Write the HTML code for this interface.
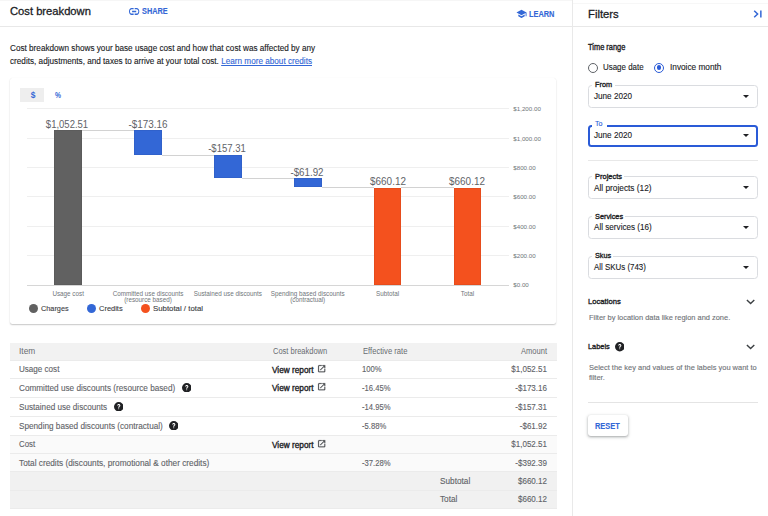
<!DOCTYPE html>
<html><head><meta charset="utf-8"><title>Cost breakdown</title>
<style>
html,body{margin:0;padding:0;background:#fff;}
body{width:768px;height:516px;position:relative;overflow:hidden;font-family:"Liberation Sans", Arial, sans-serif;}
.t{position:absolute;line-height:1;white-space:nowrap;-webkit-text-stroke:0.12px currentColor;}
.r{position:absolute;}
</style></head><body>
<div class="r" style="left:0px;top:0px;width:572px;height:1px;background:#f6f6f6;"></div>
<div class="t" style="top:5.48px;font-size:11.6px;color:#202124;left:9.80px;-webkit-text-stroke:0.3px currentColor;transform-origin:0 0;transform:scaleX(0.9656);"><span>Cost breakdown</span></div>
<svg class="r" style="left:129.3px;top:7.9px" width="10.3" height="6.9" viewBox="2 7 20 10" preserveAspectRatio="none">
<path d="M3.9 12c0-1.71 1.39-3.1 3.1-3.1h4V7H7c-2.76 0-5 2.24-5 5s2.24 5 5 5h4v-1.9H7c-1.71 0-3.1-1.39-3.1-3.1zM8 13h8v-2H8v2zm9-6h-4v1.9h4c1.71 0 3.1 1.39 3.1 3.1s-1.39 3.1-3.1 3.1h-4V17h4c2.76 0 5-2.24 5-5s-2.24-5-5-5z" fill="#3367d6"/></svg>
<div class="t" style="top:7.86px;font-size:8.2px;font-weight:700;color:#3367d6;left:142.30px;transform-origin:0 0;transform:scaleX(0.8929);"><span>SHARE</span></div>
<svg class="r" style="left:516px;top:9px" width="11" height="9" viewBox="0 2 24 18">
<path d="M5 13.18v4L12 21l7-3.82v-4L12 17l-7-3.82zM12 3L1 9l11 6 9-4.91V17h2V9L12 3z" fill="#3367d6"/></svg>
<div class="t" style="top:11.36px;font-size:8.2px;font-weight:700;color:#3367d6;left:528.60px;transform-origin:0 0;transform:scaleX(0.9006);"><span>LEARN</span></div>
<div class="r" style="left:0px;top:26px;width:572px;height:1px;background:#e8e8e8;"></div>
<div class="t" style="top:44.47px;font-size:8.3px;color:#202124;left:10.00px;transform-origin:0 0;transform:scaleX(0.9849);"><span>Cost breakdown shows your base usage cost and how that cost was affected by any</span></div>
<div class="t" style="top:56.97px;font-size:8.3px;color:#202124;left:10.00px;transform-origin:0 0;transform:scaleX(0.9847);"><span>credits, adjustments, and taxes to arrive at your total cost. <span style="color:#3367d6;text-decoration:underline">Learn more about credits</span></span></div>
<div class="r" style="left:10px;top:78px;width:546.3px;height:246.3px;background:#fff;border-radius:2.5px;box-shadow:0 1px 1.5px rgba(0,0,0,.22),0 0 1px rgba(0,0,0,.07);"></div>
<div class="r" style="left:20.3px;top:88px;width:24px;height:14px;background:#eeeeee;"></div>
<div class="t" style="top:90.81px;font-size:9.2px;font-weight:700;color:#3367d6;left:-167.45px;width:400px;text-align:center;-webkit-text-stroke:0;transform-origin:50% 0;transform:scaleX(0.9171);"><span>$</span></div>
<div class="t" style="top:90.85px;font-size:8.8px;font-weight:700;color:#3367d6;left:-142.00px;width:400px;text-align:center;-webkit-text-stroke:0;transform-origin:50% 0;transform:scaleX(0.7665);"><span>%</span></div>
<div class="r" style="left:27px;top:108.2px;width:481.6px;height:1px;background:#efefef;"></div>
<div class="t" style="top:106.15px;font-size:6.2px;color:#70757a;left:513.30px;-webkit-text-stroke:0;">$1,200.00</div>
<div class="r" style="left:27px;top:137.58px;width:481.6px;height:1px;background:#efefef;"></div>
<div class="t" style="top:135.53px;font-size:6.2px;color:#70757a;left:513.30px;-webkit-text-stroke:0;">$1,000.00</div>
<div class="r" style="left:27px;top:166.97px;width:481.6px;height:1px;background:#efefef;"></div>
<div class="t" style="top:164.92px;font-size:6.2px;color:#70757a;left:513.30px;-webkit-text-stroke:0;">$800.00</div>
<div class="r" style="left:27px;top:196.35px;width:481.6px;height:1px;background:#efefef;"></div>
<div class="t" style="top:194.30px;font-size:6.2px;color:#70757a;left:513.30px;-webkit-text-stroke:0;">$600.00</div>
<div class="r" style="left:27px;top:225.73px;width:481.6px;height:1px;background:#efefef;"></div>
<div class="t" style="top:223.68px;font-size:6.2px;color:#70757a;left:513.30px;-webkit-text-stroke:0;">$400.00</div>
<div class="r" style="left:27px;top:255.12px;width:481.6px;height:1px;background:#efefef;"></div>
<div class="t" style="top:253.07px;font-size:6.2px;color:#70757a;left:513.30px;-webkit-text-stroke:0;">$200.00</div>
<div class="r" style="left:27px;top:284.5px;width:481.6px;height:1px;background:#d6d6d6;"></div>
<div class="t" style="top:282.45px;font-size:6.2px;color:#70757a;left:513.30px;-webkit-text-stroke:0;">$0.00</div>
<div class="r" style="left:54.35px;top:130.2px;width:27.6px;height:154.8px;background:#616161;box-shadow:inset 0 0 0 0.8px rgba(0,0,0,.07);"></div>
<div class="t" style="top:119.58px;font-size:10px;color:#5f6368;left:-132.65px;width:400px;text-align:center;-webkit-text-stroke:0;transform-origin:50% 0;transform:scaleX(0.9506);"><span>$1,052.51</span></div>
<div class="r" style="left:134.21px;top:130.2px;width:27.6px;height:24.75px;background:#3367d6;box-shadow:inset 0 0 0 0.8px rgba(0,0,0,.07);"></div>
<div class="t" style="top:119.58px;font-size:10px;color:#5f6368;left:-52.39px;width:400px;text-align:center;-webkit-text-stroke:0;transform-origin:50% 0;transform:scaleX(0.9903);"><span>-$173.16</span></div>
<div class="r" style="left:214.07px;top:154.95px;width:27.6px;height:23.2px;background:#3367d6;box-shadow:inset 0 0 0 0.8px rgba(0,0,0,.07);"></div>
<div class="t" style="top:144.33px;font-size:10px;color:#5f6368;left:26.80px;width:400px;text-align:center;-webkit-text-stroke:0;transform-origin:50% 0;transform:scaleX(0.9523);"><span>-$157.31</span></div>
<div class="r" style="left:293.93px;top:178.15px;width:27.6px;height:9.1px;background:#3367d6;box-shadow:inset 0 0 0 0.8px rgba(0,0,0,.07);"></div>
<div class="t" style="top:167.53px;font-size:10px;color:#5f6368;left:107.45px;width:400px;text-align:center;-webkit-text-stroke:0;transform-origin:50% 0;transform:scaleX(0.9758);"><span>-$61.92</span></div>
<div class="r" style="left:373.79px;top:187.5px;width:27.6px;height:97.5px;background:#f4511e;box-shadow:inset 0 0 0 0.8px rgba(0,0,0,.07);"></div>
<div class="t" style="top:176.88px;font-size:10px;color:#5f6368;left:187.59px;width:400px;text-align:center;-webkit-text-stroke:0;transform-origin:50% 0;transform:scaleX(0.9929);"><span>$660.12</span></div>
<div class="r" style="left:453.65px;top:187.5px;width:27.6px;height:97.5px;background:#f4511e;box-shadow:inset 0 0 0 0.8px rgba(0,0,0,.07);"></div>
<div class="t" style="top:176.88px;font-size:10px;color:#5f6368;left:267.30px;width:400px;text-align:center;-webkit-text-stroke:0;transform-origin:50% 0;transform:scaleX(0.9929);"><span>$660.12</span></div>
<div class="r" style="left:81.95px;top:130.0px;width:52.26px;height:1px;background:#d2d2d2;"></div>
<div class="r" style="left:161.81px;top:154.75px;width:52.26px;height:1px;background:#d2d2d2;"></div>
<div class="r" style="left:241.67px;top:177.95px;width:52.26px;height:1px;background:#d2d2d2;"></div>
<div class="r" style="left:321.53px;top:187.05px;width:52.26px;height:1px;background:#d2d2d2;"></div>
<div class="r" style="left:401.39px;top:187.05px;width:52.26px;height:1px;background:#d2d2d2;"></div>
<div class="t" style="top:290.87px;font-size:6.3px;color:#70757a;left:-131.85px;width:400px;text-align:center;-webkit-text-stroke:0;">Usage cost</div>
<div class="t" style="top:290.87px;font-size:6.3px;color:#70757a;left:-52.00px;width:400px;text-align:center;-webkit-text-stroke:0;">Committed use discounts</div>
<div class="t" style="top:297.07px;font-size:6.3px;color:#70757a;left:-52.00px;width:400px;text-align:center;-webkit-text-stroke:0;">(resource based)</div>
<div class="t" style="top:290.87px;font-size:6.3px;color:#70757a;left:27.90px;width:400px;text-align:center;-webkit-text-stroke:0;">Sustained use discounts</div>
<div class="t" style="top:290.87px;font-size:6.3px;color:#70757a;left:107.70px;width:400px;text-align:center;-webkit-text-stroke:0;">Spending based discounts</div>
<div class="t" style="top:297.07px;font-size:6.3px;color:#70757a;left:107.70px;width:400px;text-align:center;-webkit-text-stroke:0;">(contractual)</div>
<div class="t" style="top:290.87px;font-size:6.3px;color:#70757a;left:187.60px;width:400px;text-align:center;-webkit-text-stroke:0;">Subtotal</div>
<div class="t" style="top:290.87px;font-size:6.3px;color:#70757a;left:267.45px;width:400px;text-align:center;-webkit-text-stroke:0;">Total</div>
<div class="r" style="left:28.8px;top:304.2px;width:9px;height:9px;background:#616161;border-radius:50%;"></div>
<div class="t" style="top:304.98px;font-size:7.7px;color:#3c4043;left:40.70px;transform-origin:0 0;transform:scaleX(0.9497);"><span>Charges</span></div>
<div class="r" style="left:86.7px;top:304.2px;width:9px;height:9px;background:#3367d6;border-radius:50%;"></div>
<div class="t" style="top:304.98px;font-size:7.7px;color:#3c4043;left:98.50px;transform-origin:0 0;transform:scaleX(0.9729);"><span>Credits</span></div>
<div class="r" style="left:140.9px;top:304.2px;width:9px;height:9px;background:#f4511e;border-radius:50%;"></div>
<div class="t" style="top:304.98px;font-size:7.7px;color:#3c4043;left:152.50px;transform-origin:0 0;transform:scaleX(1.0172);"><span>Subtotal / total</span></div>
<div class="r" style="left:10px;top:342.6px;width:547px;height:17.4px;background:#f2f2f2;"></div>
<div class="r" style="left:10px;top:360.0px;width:547px;height:18.1px;background:#fff;"></div>
<div class="r" style="left:10px;top:378.1px;width:547px;height:19.0px;background:#fff;"></div>
<div class="r" style="left:10px;top:397.1px;width:547px;height:18.9px;background:#fff;"></div>
<div class="r" style="left:10px;top:416.0px;width:547px;height:19.0px;background:#fff;"></div>
<div class="r" style="left:10px;top:435.0px;width:547px;height:18.3px;background:#fafafa;"></div>
<div class="r" style="left:10px;top:453.3px;width:547px;height:18.5px;background:#fafafa;"></div>
<div class="r" style="left:10px;top:471.8px;width:547px;height:18.5px;background:#f1f1f1;"></div>
<div class="r" style="left:10px;top:490.3px;width:547px;height:17.7px;background:#f1f1f1;"></div>
<div class="r" style="left:10px;top:359.5px;width:547px;height:1px;background:#ebebeb;"></div>
<div class="r" style="left:10px;top:377.6px;width:547px;height:1px;background:#ebebeb;"></div>
<div class="r" style="left:10px;top:396.6px;width:547px;height:1px;background:#ebebeb;"></div>
<div class="r" style="left:10px;top:415.5px;width:547px;height:1px;background:#ebebeb;"></div>
<div class="r" style="left:10px;top:434.5px;width:547px;height:1px;background:#ebebeb;"></div>
<div class="r" style="left:10px;top:452.8px;width:547px;height:1px;background:#ebebeb;"></div>
<div class="r" style="left:10px;top:471.3px;width:547px;height:1px;background:#ebebeb;"></div>
<div class="r" style="left:10px;top:489.8px;width:547px;height:1px;background:#ebebeb;"></div>
<div class="r" style="left:10px;top:507.5px;width:547px;height:1px;background:#ebebeb;"></div>
<div class="t" style="top:347.05px;font-size:8.5px;color:#686c71;left:18.60px;-webkit-text-stroke:0;transform-origin:0 0;transform:scaleX(0.9800);"><span>Item</span></div>
<div class="t" style="top:347.05px;font-size:8.5px;color:#686c71;left:272.50px;-webkit-text-stroke:0;transform-origin:0 0;transform:scaleX(0.8824);"><span>Cost breakdown</span></div>
<div class="t" style="top:347.05px;font-size:8.5px;color:#686c71;left:362.50px;-webkit-text-stroke:0;transform-origin:0 0;transform:scaleX(0.8978);"><span>Effective rate</span></div>
<div class="t" style="top:347.05px;font-size:8.5px;color:#686c71;left:147.00px;width:400px;text-align:right;-webkit-text-stroke:0;transform-origin:100% 0;transform:scaleX(0.8875);"><span>Amount</span></div>
<div class="t" style="top:365.28px;font-size:9px;color:#5f6368;left:19.20px;transform-origin:0 0;transform:scaleX(0.8972);"><span>Usage cost</span></div>
<div class="t" style="top:365.72px;font-size:8.6px;color:#202124;left:272.20px;-webkit-text-stroke:0.35px currentColor;transform-origin:0 0;transform:scaleX(0.9582);"><span>View report</span></div>
<svg width="9.4" height="9.4" viewBox="0 0 24 24" style="position:absolute;left:316.6px;top:363.9px"><path d="M19 19H5V5h7V3H5a2 2 0 0 0-2 2v14a2 2 0 0 0 2 2h14c1.1 0 2-.9 2-2v-7h-2v7zM14 3v2h3.59l-9.83 9.83 1.41 1.41L19 6.41V10h2V3h-7z" fill="#3c4043" stroke="#3c4043" stroke-width="0.5"/></svg>
<div class="t" style="top:365.28px;font-size:9px;color:#5f6368;left:362.30px;transform-origin:0 0;transform:scaleX(0.8500);">100%</div>
<div class="t" style="top:365.28px;font-size:9px;color:#5f6368;left:147.00px;width:400px;text-align:right;transform-origin:100% 0;transform:scaleX(0.8920);">$1,052.51</div>
<div class="t" style="top:383.83px;font-size:9px;color:#5f6368;left:19.20px;transform-origin:0 0;transform:scaleX(0.9104);"><span>Committed use discounts (resource based)</span></div>
<svg width="9.5" height="9.5" viewBox="0 0 24 24" style="position:absolute;left:181.6px;top:382.85px"><circle cx="12" cy="12" r="12" fill="#202124"/><path d="M12 18.6a1.3 1.3 0 1 1 0-2.6 1.3 1.3 0 0 1 0 2.6zM13.3 13.3v1.2h-2.6v-1.7c0-1.4 2.8-2.2 2.8-3.9 0-.9-.7-1.5-1.5-1.5s-1.5.6-1.6 1.5H7.8C8 6.7 9.8 5 12 5c2.3 0 4.1 1.7 4.1 3.9 0 2.5-2.8 3.3-2.8 4.4z" fill="#fff"/></svg>
<div class="t" style="top:384.27px;font-size:8.6px;color:#202124;left:272.20px;-webkit-text-stroke:0.35px currentColor;transform-origin:0 0;transform:scaleX(0.9582);"><span>View report</span></div>
<svg width="9.4" height="9.4" viewBox="0 0 24 24" style="position:absolute;left:316.6px;top:382.45px"><path d="M19 19H5V5h7V3H5a2 2 0 0 0-2 2v14a2 2 0 0 0 2 2h14c1.1 0 2-.9 2-2v-7h-2v7zM14 3v2h3.59l-9.83 9.83 1.41 1.41L19 6.41V10h2V3h-7z" fill="#3c4043" stroke="#3c4043" stroke-width="0.5"/></svg>
<div class="t" style="top:383.83px;font-size:9px;color:#5f6368;left:362.30px;transform-origin:0 0;transform:scaleX(0.8500);">-16.45%</div>
<div class="t" style="top:383.83px;font-size:9px;color:#5f6368;left:147.00px;width:400px;text-align:right;transform-origin:100% 0;transform:scaleX(0.8920);">-$173.16</div>
<div class="t" style="top:402.78px;font-size:9px;color:#5f6368;left:19.20px;transform-origin:0 0;transform:scaleX(0.9039);"><span>Sustained use discounts</span></div>
<svg width="9.5" height="9.5" viewBox="0 0 24 24" style="position:absolute;left:113.6px;top:401.8px"><circle cx="12" cy="12" r="12" fill="#202124"/><path d="M12 18.6a1.3 1.3 0 1 1 0-2.6 1.3 1.3 0 0 1 0 2.6zM13.3 13.3v1.2h-2.6v-1.7c0-1.4 2.8-2.2 2.8-3.9 0-.9-.7-1.5-1.5-1.5s-1.5.6-1.6 1.5H7.8C8 6.7 9.8 5 12 5c2.3 0 4.1 1.7 4.1 3.9 0 2.5-2.8 3.3-2.8 4.4z" fill="#fff"/></svg>
<div class="t" style="top:402.78px;font-size:9px;color:#5f6368;left:362.30px;transform-origin:0 0;transform:scaleX(0.8500);">-14.95%</div>
<div class="t" style="top:402.78px;font-size:9px;color:#5f6368;left:147.00px;width:400px;text-align:right;transform-origin:100% 0;transform:scaleX(0.8920);">-$157.31</div>
<div class="t" style="top:421.73px;font-size:9px;color:#5f6368;left:19.20px;transform-origin:0 0;transform:scaleX(0.9095);"><span>Spending based discounts (contractual)</span></div>
<svg width="9.5" height="9.5" viewBox="0 0 24 24" style="position:absolute;left:168.7px;top:420.75px"><circle cx="12" cy="12" r="12" fill="#202124"/><path d="M12 18.6a1.3 1.3 0 1 1 0-2.6 1.3 1.3 0 0 1 0 2.6zM13.3 13.3v1.2h-2.6v-1.7c0-1.4 2.8-2.2 2.8-3.9 0-.9-.7-1.5-1.5-1.5s-1.5.6-1.6 1.5H7.8C8 6.7 9.8 5 12 5c2.3 0 4.1 1.7 4.1 3.9 0 2.5-2.8 3.3-2.8 4.4z" fill="#fff"/></svg>
<div class="t" style="top:421.73px;font-size:9px;color:#5f6368;left:362.30px;transform-origin:0 0;transform:scaleX(0.8500);">-5.88%</div>
<div class="t" style="top:421.73px;font-size:9px;color:#5f6368;left:147.00px;width:400px;text-align:right;transform-origin:100% 0;transform:scaleX(0.8920);">-$61.92</div>
<div class="t" style="top:440.38px;font-size:9px;color:#5f6368;left:19.20px;transform-origin:0 0;transform:scaleX(0.8695);"><span>Cost</span></div>
<div class="t" style="top:440.82px;font-size:8.6px;color:#202124;left:272.20px;-webkit-text-stroke:0.35px currentColor;transform-origin:0 0;transform:scaleX(0.9582);"><span>View report</span></div>
<svg width="9.4" height="9.4" viewBox="0 0 24 24" style="position:absolute;left:316.6px;top:439.0px"><path d="M19 19H5V5h7V3H5a2 2 0 0 0-2 2v14a2 2 0 0 0 2 2h14c1.1 0 2-.9 2-2v-7h-2v7zM14 3v2h3.59l-9.83 9.83 1.41 1.41L19 6.41V10h2V3h-7z" fill="#3c4043" stroke="#3c4043" stroke-width="0.5"/></svg>
<div class="t" style="top:440.38px;font-size:9px;color:#5f6368;left:147.00px;width:400px;text-align:right;transform-origin:100% 0;transform:scaleX(0.8920);">$1,052.51</div>
<div class="t" style="top:458.78px;font-size:9px;color:#5f6368;left:19.20px;transform-origin:0 0;transform:scaleX(0.9189);"><span>Total credits (discounts, promotional &amp; other credits)</span></div>
<div class="t" style="top:458.78px;font-size:9px;color:#5f6368;left:362.30px;transform-origin:0 0;transform:scaleX(0.8500);">-37.28%</div>
<div class="t" style="top:458.78px;font-size:9px;color:#5f6368;left:147.00px;width:400px;text-align:right;transform-origin:100% 0;transform:scaleX(0.8920);">-$392.39</div>
<div class="t" style="top:477.28px;font-size:9px;color:#5f6368;left:439.60px;transform-origin:0 0;transform:scaleX(0.9150);">Subtotal</div>
<div class="t" style="top:477.28px;font-size:9px;color:#5f6368;left:147.00px;width:400px;text-align:right;transform-origin:100% 0;transform:scaleX(0.8920);">$660.12</div>
<div class="t" style="top:495.38px;font-size:9px;color:#5f6368;left:439.60px;transform-origin:0 0;transform:scaleX(0.9150);">Total</div>
<div class="t" style="top:495.38px;font-size:9px;color:#5f6368;left:147.00px;width:400px;text-align:right;transform-origin:100% 0;transform:scaleX(0.8920);">$660.12</div>
<div class="r" style="left:572px;top:0px;width:1px;height:516px;background:#e9e9e9;"></div>
<div class="r" style="left:573px;top:3px;width:195px;height:1px;background:#f7f7f7;"></div>
<div class="t" style="top:8.28px;font-size:11.6px;color:#202124;left:587.70px;-webkit-text-stroke:0.3px currentColor;transform-origin:0 0;transform:scaleX(0.9727);"><span>Filters</span></div>
<svg class="r" style="left:752.5px;top:10px" width="10" height="8" viewBox="0 0 10 8"><path d="M1.2 0.8L4.6 4 1.2 7.2" stroke="#3367d6" stroke-width="1.5" fill="none"/><rect x="7.1" y="0.5" width="1.5" height="7" fill="#3367d6"/></svg>
<div class="r" style="left:573px;top:26px;width:195px;height:1px;background:#e8e8e8;"></div>
<div class="t" style="top:43.05px;font-size:8.5px;color:#202124;left:588.40px;-webkit-text-stroke:0.35px currentColor;transform-origin:0 0;transform:scaleX(0.8761);"><span>Time range</span></div>
<div class="r" style="left:587.8px;top:62.5px;width:10.2px;height:10.2px;box-sizing:border-box;border:1.5px solid #5f6368;border-radius:50%;"></div>
<div class="t" style="top:62.92px;font-size:8.6px;color:#202124;left:603.10px;transform-origin:0 0;transform:scaleX(0.9234);"><span>Usage date</span></div>
<div class="r" style="left:654px;top:62.5px;width:10.2px;height:10.2px;box-sizing:border-box;border:1.5px solid #2a5bd7;border-radius:50%;"></div>
<div class="r" style="left:656.7px;top:65.2px;width:4.8px;height:4.8px;background:#2a5bd7;border-radius:50%;"></div>
<div class="t" style="top:62.92px;font-size:8.6px;color:#202124;left:669.60px;transform-origin:0 0;transform:scaleX(0.9605);"><span>Invoice month</span></div>
<div class="r" style="left:588.3px;top:84.9px;width:170.1px;height:22.9px;box-sizing:border-box;border:1px solid #dadce0;border-radius:3.5px;"></div>
<div class="r" style="left:591.5px;top:82.9px;width:23px;height:4px;background:#fff;"></div>
<div class="t" style="top:80.97px;font-size:7.6px;color:#202124;left:594.80px;-webkit-text-stroke:0.35px currentColor;transform-origin:0 0;transform:scaleX(0.9651);"><span>From</span></div>
<div class="t" style="top:91.72px;font-size:8.6px;color:#202124;left:594.30px;transform-origin:0 0;transform:scaleX(0.9467);"><span>June 2020</span></div>
<div class="r" style="left:742.7px;top:94.65px;width:0;height:0;border-left:3.2px solid transparent;border-right:3.2px solid transparent;border-top:3.4px solid #202124;"></div>
<div class="r" style="left:588.3px;top:124.6px;width:170.1px;height:22.0px;box-sizing:border-box;border:2px solid #2a5bd7;border-radius:3.5px;"></div>
<div class="r" style="left:591.5px;top:122.6px;width:15px;height:4px;background:#fff;"></div>
<div class="t" style="top:120.37px;font-size:7.6px;color:#2a5bd7;left:594.80px;transform-origin:0 0;transform:scaleX(0.9339);"><span>To</span></div>
<div class="t" style="top:130.92px;font-size:8.6px;color:#202124;left:594.30px;transform-origin:0 0;transform:scaleX(0.9467);"><span>June 2020</span></div>
<div class="r" style="left:742.7px;top:133.90px;width:0;height:0;border-left:3.2px solid transparent;border-right:3.2px solid transparent;border-top:3.4px solid #202124;"></div>
<div class="r" style="left:588.3px;top:159.8px;width:170px;height:1px;background:#e8e8e8;"></div>
<div class="r" style="left:588.3px;top:176.4px;width:170.1px;height:23px;box-sizing:border-box;border:1px solid #dadce0;border-radius:3.5px;"></div>
<div class="r" style="left:591.5px;top:174.4px;width:32px;height:4px;background:#fff;"></div>
<div class="t" style="top:173.07px;font-size:7.6px;color:#202124;left:594.80px;-webkit-text-stroke:0.35px currentColor;transform-origin:0 0;transform:scaleX(0.9841);"><span>Projects</span></div>
<div class="t" style="top:183.52px;font-size:8.6px;color:#202124;left:594.30px;transform-origin:0 0;transform:scaleX(0.9631);"><span>All projects (12)</span></div>
<div class="r" style="left:742.7px;top:186.20px;width:0;height:0;border-left:3.2px solid transparent;border-right:3.2px solid transparent;border-top:3.4px solid #202124;"></div>
<div class="r" style="left:588.3px;top:216.1px;width:170.1px;height:23px;box-sizing:border-box;border:1px solid #dadce0;border-radius:3.5px;"></div>
<div class="r" style="left:591.5px;top:214.1px;width:33px;height:4px;background:#fff;"></div>
<div class="t" style="top:212.67px;font-size:7.6px;color:#202124;left:594.80px;-webkit-text-stroke:0.35px currentColor;transform-origin:0 0;transform:scaleX(0.9648);"><span>Services</span></div>
<div class="t" style="top:223.12px;font-size:8.6px;color:#202124;left:594.30px;transform-origin:0 0;transform:scaleX(0.9454);"><span>All services (16)</span></div>
<div class="r" style="left:742.7px;top:225.90px;width:0;height:0;border-left:3.2px solid transparent;border-right:3.2px solid transparent;border-top:3.4px solid #202124;"></div>
<div class="r" style="left:588.3px;top:255.8px;width:170.1px;height:23px;box-sizing:border-box;border:1px solid #dadce0;border-radius:3.5px;"></div>
<div class="r" style="left:591.5px;top:253.8px;width:21px;height:4px;background:#fff;"></div>
<div class="t" style="top:252.27px;font-size:7.6px;color:#202124;left:594.80px;-webkit-text-stroke:0.35px currentColor;transform-origin:0 0;transform:scaleX(0.9532);"><span>Skus</span></div>
<div class="t" style="top:262.82px;font-size:8.6px;color:#202124;left:594.30px;transform-origin:0 0;transform:scaleX(0.9209);"><span>All SKUs (743)</span></div>
<div class="r" style="left:742.7px;top:265.60px;width:0;height:0;border-left:3.2px solid transparent;border-right:3.2px solid transparent;border-top:3.4px solid #202124;"></div>
<div class="t" style="top:298.33px;font-size:8.0px;color:#202124;left:588.30px;-webkit-text-stroke:0.35px currentColor;transform-origin:0 0;transform:scaleX(0.9577);"><span>Locations</span></div>
<svg class="r" style="left:745.9px;top:298.8px" width="9" height="6" viewBox="0 0 9 6"><path d="M0.9 0.9L4.6 4.5 8.3 0.9" stroke="#3c4043" stroke-width="1.4" fill="none"/></svg>
<div class="t" style="top:313.67px;font-size:7.6px;color:#6f7378;left:588.50px;transform-origin:0 0;transform:scaleX(0.9780);"><span>Filter by location data like region and zone.</span></div>
<div class="t" style="top:343.48px;font-size:8.0px;color:#202124;left:588.30px;-webkit-text-stroke:0.35px currentColor;transform-origin:0 0;transform:scaleX(0.9246);"><span>Labels</span></div>
<svg width="9.5" height="9.5" viewBox="0 0 24 24" style="position:absolute;left:614.9px;top:342px"><circle cx="12" cy="12" r="12" fill="#202124"/><path d="M12 18.6a1.3 1.3 0 1 1 0-2.6 1.3 1.3 0 0 1 0 2.6zM13.3 13.3v1.2h-2.6v-1.7c0-1.4 2.8-2.2 2.8-3.9 0-.9-.7-1.5-1.5-1.5s-1.5.6-1.6 1.5H7.8C8 6.7 9.8 5 12 5c2.3 0 4.1 1.7 4.1 3.9 0 2.5-2.8 3.3-2.8 4.4z" fill="#fff"/></svg>
<svg class="r" style="left:745.9px;top:344.0px" width="9" height="6" viewBox="0 0 9 6"><path d="M0.9 0.9L4.6 4.5 8.3 0.9" stroke="#3c4043" stroke-width="1.4" fill="none"/></svg>
<div class="t" style="top:364.27px;font-size:7.6px;color:#6f7378;left:588.50px;transform-origin:0 0;transform:scaleX(0.9833);"><span>Select the key and values of the labels you want to</span></div>
<div class="t" style="top:373.67px;font-size:7.6px;color:#6f7378;left:588.50px;transform-origin:0 0;transform:scaleX(0.9800);">filter.</div>
<div class="r" style="left:588px;top:402.4px;width:170px;height:1px;background:#e4e4e4;"></div>
<div class="r" style="left:587.8px;top:415.4px;width:40.3px;height:20.2px;background:#fff;border-radius:3px;box-shadow:0 1px 2px rgba(60,64,67,.3),0 1px 3px 1px rgba(60,64,67,.15);"></div>
<div class="t" style="top:421.72px;font-size:8.6px;font-weight:700;color:#3367d6;left:594.80px;transform-origin:0 0;transform:scaleX(0.8654);"><span>RESET</span></div>
</body></html>
